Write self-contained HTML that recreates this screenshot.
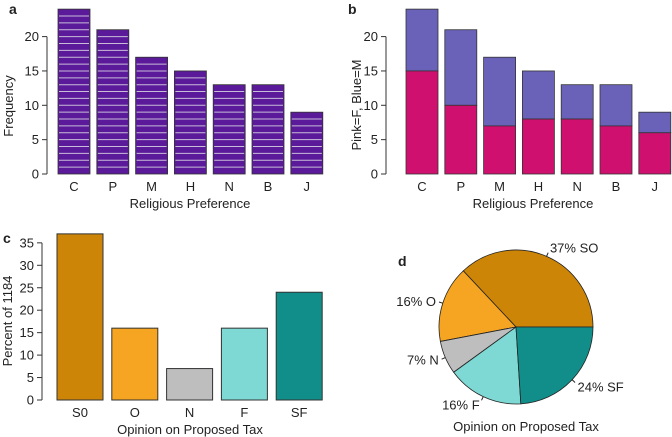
<!DOCTYPE html>
<html><head><meta charset="utf-8"><style>
body{margin:0;background:#fff}
svg{display:block;font-family:"Liberation Sans",Arial,sans-serif}
</style></head><body>
<svg id="s" width="672" height="437" viewBox="0 0 672 437"></svg>
<script>
const relCats=["C","P","M","H","N","B","J"];
const relTotal=[24,21,17,15,13,13,9];
const relFemale=[15,10,7,8,8,7,6];
const yTicksAB=[0,5,10,15,20];
const taxCats=["S0","O","N","F","SF"];
const taxPct=[37,16,7,16,24];
const taxColors=["#cd8508","#f5a522","#bebebe","#7ed8d4","#128e8a"];
const yTicksC=[0,5,10,15,20,25,30,35];
const pieLabels=["37% SO","16% O","7% N","16% F","24% SF"];

const s=document.getElementById('s');
const NS="http://www.w3.org/2000/svg";
function el(t,a,txt){const e=document.createElementNS(NS,t);for(const k in a)e.setAttribute(k,a[k]);if(txt!==undefined)e.textContent=txt;s.appendChild(e);return e;}

function axisY(x,yf,ticks,top){
  const ln=el('line',{x1:x,x2:x,y1:yf(ticks[0]),y2:yf(ticks[ticks.length-1]),stroke:'#333','stroke-width':1});
  
  
  ticks.forEach(v=>{
    el('line',{x1:x-5,x2:x,y1:yf(v),y2:yf(v),stroke:'#333'});
    const t=el('text',{x:x-8,y:yf(v)+4.5,'text-anchor':'end','font-size':13,fill:'#222'},v);
    
    
  });
}
function label(x,y,txt,name,opt){
  const t=el('text',Object.assign({x:x,y:y,'font-size':13,fill:'#222','text-anchor':'middle'},opt||{}),txt);
  
  
  return t;
}

// Panel a
const yA=v=>174-v*6.87;
const xA=i=>58+i*38.8;
axisY(47,yA,yTicksAB);
relCats.forEach((c,i)=>{
  const r=el('rect',{x:xA(i),y:yA(relTotal[i]),width:32,height:yA(0)-yA(relTotal[i]),fill:'#5a1a9a',stroke:'#333','stroke-width':0.8});
  
  
  for(let k=1;k<relTotal[i];k++){
    el('line',{x1:xA(i)+1,x2:xA(i)+31,y1:yA(k),y2:yA(k),stroke:'#c8bcd8','stroke-width':1});
  }
  label(xA(i)+16,191,c,'x-tick-label');
});
label(9,14,'a','panel-a-label',{'font-weight':'bold','font-size':14,'text-anchor':'start'});
label(9,106,'Frequency','y-axis-title-a',{transform:'rotate(-90 9 106)',dy:4});
label(190,208,'Religious Preference','x-axis-title-a');

// Panel b
const xB=i=>406+i*38.8;
axisY(386,yA,yTicksAB);
relCats.forEach((c,i)=>{
  const r1=el('rect',{x:xB(i),y:yA(relTotal[i]),width:32,height:yA(relFemale[i])-yA(relTotal[i]),fill:'#6a62b8',stroke:'#333','stroke-width':0.8});
  
  
  const r2=el('rect',{x:xB(i),y:yA(relFemale[i]),width:32,height:yA(0)-yA(relFemale[i]),fill:'#d0106f',stroke:'#333','stroke-width':0.8});
  
  
  label(xB(i)+16,191,c,'x-tick-label');
});
label(348,14,'b','panel-b-label',{'font-weight':'bold','font-size':14,'text-anchor':'start'});
label(357,105,'Pink=F, Blue=M','y-axis-title-b',{transform:'rotate(-90 357 105)',dy:4});
label(533,208,'Religious Preference','x-axis-title-b');

// Panel c
const yC=v=>400-v*4.49;
const xC=i=>57+i*54.8;
axisY(42,yC,yTicksC);
taxCats.forEach((c,i)=>{
  const r=el('rect',{x:xC(i),y:yC(taxPct[i]),width:46,height:yC(0)-yC(taxPct[i]),fill:taxColors[i],stroke:'#333','stroke-width':1});
  
  
  label(xC(i)+23,417,c,'x-tick-label');
});
label(3,243,'c','panel-c-label',{'font-weight':'bold','font-size':14,'text-anchor':'start'});
label(8,321,'Percent of 1184','y-axis-title-c',{transform:'rotate(-90 8 321)',dy:4});
label(190,434,'Opinion on Proposed Tax','x-axis-title-c');

// Panel d pie
const cx=516,cy=327,R=77;
const tot=taxPct.reduce((a,b)=>a+b,0);
let acc=0;
const anchors=['start','end','end','end','start'];
taxPct.forEach((v,i)=>{
  const a0=acc/tot*2*Math.PI, a1=(acc+v)/tot*2*Math.PI; acc+=v;
  const p0=[cx+R*Math.cos(a0),cy-R*Math.sin(a0)], p1=[cx+R*Math.cos(a1),cy-R*Math.sin(a1)];
  const large=(a1-a0)>Math.PI?1:0;
  const p=el('path',{d:`M${cx},${cy}L${p0[0]},${p0[1]}A${R},${R} 0 ${large} 0 ${p1[0]},${p1[1]}Z`,fill:taxColors[i],stroke:'#222','stroke-width':0.8});
  
  
  const am=(a0+a1)/2;
  const q0=[cx+R*Math.cos(am),cy-R*Math.sin(am)], q1=[cx+(R+4)*Math.cos(am),cy-(R+4)*Math.sin(am)];
  el('line',{x1:q0[0],y1:q0[1],x2:q1[0],y2:q1[1],stroke:'#222'});
  const lx=cx+(R+6)*Math.cos(am), ly=cy-(R+6)*Math.sin(am);
  label(lx+(anchors[i]=='start'?1:-1),ly+4.5+(Math.sin(am)>0.5?-3:0)+(Math.sin(am)<-0.5?3:0),pieLabels[i],'pie-label',{'text-anchor':anchors[i]});
});
label(398,266,'d','panel-d-label',{'font-weight':'bold','font-size':14,'text-anchor':'start'});
label(526,431,'Opinion on Proposed Tax','x-axis-title-d');
</script>
</body></html>
